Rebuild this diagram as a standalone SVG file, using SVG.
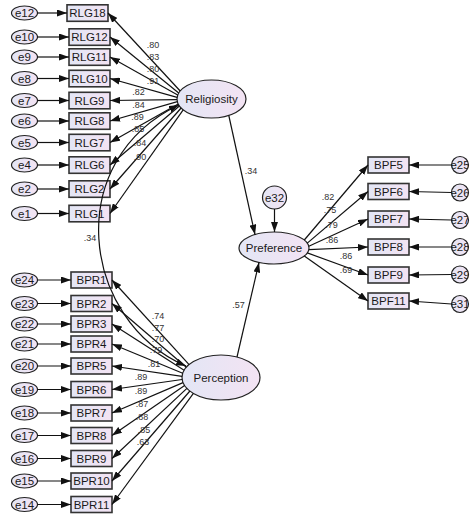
<svg xmlns="http://www.w3.org/2000/svg" width="474" height="515" viewBox="0 0 474 515">
<defs>
<linearGradient id="g" x1="0" y1="0" x2="1" y2="0"><stop offset="0" stop-color="#e3e6f5"/><stop offset="1" stop-color="#f3e3f3"/></linearGradient>
<marker id="ah" viewBox="0 0 10 7" refX="10" refY="3.5" markerWidth="10" markerHeight="7" markerUnits="userSpaceOnUse" orient="auto-start-reverse"><path d="M0,0 L10,3.5 L0,7 z" fill="#111"/></marker>
<clipPath id="cc"><circle r="8.5"/></clipPath>
</defs>
<style>
.box{fill:url(#g);stroke:#333;stroke-width:1.6}
.lat{fill:url(#g);stroke:#222;stroke-width:1.2}
.err{fill:url(#g);stroke:#222;stroke-width:1.2}
.t{font-family:"Liberation Sans",Arial,sans-serif;font-size:11.5px;fill:#1a1a1a;text-anchor:middle;dominant-baseline:central}
.w{font-family:"Liberation Sans",Arial,sans-serif;font-size:9px;fill:#333;text-anchor:middle}
.c line,.c path{stroke:#111;stroke-width:1.2;fill:none;marker-end:url(#ah)}
</style>
<rect width="474" height="515" fill="#fff"/>
<g id="Religiosity"><ellipse class="lat" cx="211.5" cy="99" rx="34.5" ry="19"/><text class="t" x="211.5" y="99">Religiosity</text></g>
<g id="Perception"><ellipse class="lat" cx="221" cy="377.5" rx="39" ry="22.5"/><text class="t" x="221" y="377.5">Perception</text></g>
<g id="Preference"><ellipse class="lat" cx="274" cy="248" rx="35" ry="16"/><text class="t" x="274" y="248">Preference</text></g>
<g id="e32"><ellipse class="err" cx="274.5" cy="197.5" rx="12" ry="11.5"/><text class="t" x="274.5" y="197.5">e32</text></g>
<g id="RLG18"><rect class="box" x="67" y="4.8" width="41" height="16.5"/><text class="t" x="87.5" y="13">RLG18</text></g>
<g id="RLG12"><rect class="box" x="69" y="28.8" width="41" height="16.5"/><text class="t" x="89.5" y="37">RLG12</text></g>
<g id="RLG11"><rect class="box" x="69" y="48.8" width="41" height="16.5"/><text class="t" x="89.5" y="57">RLG11</text></g>
<g id="RLG10"><rect class="box" x="69" y="70.3" width="41" height="16.5"/><text class="t" x="89.5" y="78.5">RLG10</text></g>
<g id="RLG9"><rect class="box" x="69" y="92.3" width="41" height="16.5"/><text class="t" x="89.5" y="100.5">RLG9</text></g>
<g id="RLG8"><rect class="box" x="69" y="112.8" width="41" height="16.5"/><text class="t" x="89.5" y="121">RLG8</text></g>
<g id="RLG7"><rect class="box" x="69" y="134.3" width="41" height="16.5"/><text class="t" x="89.5" y="142.5">RLG7</text></g>
<g id="RLG6"><rect class="box" x="69" y="156.8" width="41" height="16.5"/><text class="t" x="89.5" y="165">RLG6</text></g>
<g id="RLG2"><rect class="box" x="69" y="180.8" width="41" height="16.5"/><text class="t" x="89.5" y="189">RLG2</text></g>
<g id="RLG1"><rect class="box" x="69" y="205.3" width="41" height="16.5"/><text class="t" x="89.5" y="213.5">RLG1</text></g>
<g id="BPR1"><rect class="box" x="71" y="272" width="41" height="16"/><text class="t" x="91.5" y="280">BPR1</text></g>
<g id="BPR2"><rect class="box" x="71" y="295.5" width="41" height="16"/><text class="t" x="91.5" y="303.5">BPR2</text></g>
<g id="BPR3"><rect class="box" x="71" y="316" width="41" height="16"/><text class="t" x="91.5" y="324">BPR3</text></g>
<g id="BPR4"><rect class="box" x="71" y="336" width="41" height="16"/><text class="t" x="91.5" y="344">BPR4</text></g>
<g id="BPR5"><rect class="box" x="71" y="358" width="41" height="16"/><text class="t" x="91.5" y="366">BPR5</text></g>
<g id="BPR6"><rect class="box" x="71" y="381.5" width="41" height="16"/><text class="t" x="91.5" y="389.5">BPR6</text></g>
<g id="BPR7"><rect class="box" x="71" y="405" width="41" height="16"/><text class="t" x="91.5" y="413">BPR7</text></g>
<g id="BPR8"><rect class="box" x="71" y="427.5" width="41" height="16"/><text class="t" x="91.5" y="435.5">BPR8</text></g>
<g id="BPR9"><rect class="box" x="71" y="450.5" width="41" height="16"/><text class="t" x="91.5" y="458.5">BPR9</text></g>
<g id="BPR10"><rect class="box" x="71" y="473" width="41" height="16"/><text class="t" x="91.5" y="481">BPR10</text></g>
<g id="BPR11"><rect class="box" x="71" y="496.5" width="41" height="16"/><text class="t" x="91.5" y="504.5">BPR11</text></g>
<g id="BPF5"><rect class="box" x="368" y="157" width="41" height="16"/><text class="t" x="388.5" y="165">BPF5</text></g>
<g id="BPF6"><rect class="box" x="368" y="183.5" width="41" height="16"/><text class="t" x="388.5" y="191.5">BPF6</text></g>
<g id="BPF7"><rect class="box" x="368" y="211" width="41" height="16"/><text class="t" x="388.5" y="219">BPF7</text></g>
<g id="BPF8"><rect class="box" x="368" y="239" width="41" height="16"/><text class="t" x="388.5" y="247">BPF8</text></g>
<g id="BPF9"><rect class="box" x="368" y="267" width="41" height="16"/><text class="t" x="388.5" y="275">BPF9</text></g>
<g id="BPF11"><rect class="box" x="368" y="293" width="41" height="16"/><text class="t" x="388.5" y="301">BPF11</text></g>
<g id="e12"><ellipse class="err" cx="24.5" cy="13" rx="13" ry="7"/><text class="t" x="24.5" y="13">e12</text></g>
<g id="e10"><ellipse class="err" cx="24.5" cy="37" rx="13" ry="7"/><text class="t" x="24.5" y="37">e10</text></g>
<g id="e9"><ellipse class="err" cx="24.5" cy="57" rx="13" ry="7"/><text class="t" x="24.5" y="57">e9</text></g>
<g id="e8"><ellipse class="err" cx="24.5" cy="78.5" rx="13" ry="7"/><text class="t" x="24.5" y="78.5">e8</text></g>
<g id="e7"><ellipse class="err" cx="24.5" cy="100.5" rx="13" ry="7"/><text class="t" x="24.5" y="100.5">e7</text></g>
<g id="e6"><ellipse class="err" cx="24.5" cy="121" rx="13" ry="7"/><text class="t" x="24.5" y="121">e6</text></g>
<g id="e5"><ellipse class="err" cx="24.5" cy="142.5" rx="13" ry="7"/><text class="t" x="24.5" y="142.5">e5</text></g>
<g id="e4"><ellipse class="err" cx="24.5" cy="165" rx="13" ry="7"/><text class="t" x="24.5" y="165">e4</text></g>
<g id="e2"><ellipse class="err" cx="24.5" cy="189" rx="13" ry="7"/><text class="t" x="24.5" y="189">e2</text></g>
<g id="e1"><ellipse class="err" cx="24.5" cy="213.5" rx="13" ry="7"/><text class="t" x="24.5" y="213.5">e1</text></g>
<g id="e24"><ellipse class="err" cx="24.5" cy="280" rx="13" ry="7"/><text class="t" x="24.5" y="280">e24</text></g>
<g id="e23"><ellipse class="err" cx="24.5" cy="303.5" rx="13" ry="7"/><text class="t" x="24.5" y="303.5">e23</text></g>
<g id="e22"><ellipse class="err" cx="24.5" cy="324" rx="13" ry="7"/><text class="t" x="24.5" y="324">e22</text></g>
<g id="e21"><ellipse class="err" cx="24.5" cy="344" rx="13" ry="7"/><text class="t" x="24.5" y="344">e21</text></g>
<g id="e20"><ellipse class="err" cx="24.5" cy="366" rx="13" ry="7"/><text class="t" x="24.5" y="366">e20</text></g>
<g id="e19"><ellipse class="err" cx="24.5" cy="389.5" rx="13" ry="7"/><text class="t" x="24.5" y="389.5">e19</text></g>
<g id="e18"><ellipse class="err" cx="24.5" cy="413" rx="13" ry="7"/><text class="t" x="24.5" y="413">e18</text></g>
<g id="e17"><ellipse class="err" cx="24.5" cy="435.5" rx="13" ry="7"/><text class="t" x="24.5" y="435.5">e17</text></g>
<g id="e16"><ellipse class="err" cx="24.5" cy="458.5" rx="13" ry="7"/><text class="t" x="24.5" y="458.5">e16</text></g>
<g id="e15"><ellipse class="err" cx="24.5" cy="481" rx="13" ry="7"/><text class="t" x="24.5" y="481">e15</text></g>
<g id="e14"><ellipse class="err" cx="24.5" cy="504.5" rx="13" ry="7"/><text class="t" x="24.5" y="504.5">e14</text></g>
<g id="e25" transform="translate(460,165)"><circle class="err" r="8.5"/><text class="t" clip-path="url(#cc)">e25</text></g>
<g id="e26" transform="translate(460,192.5)"><circle class="err" r="8.5"/><text class="t" clip-path="url(#cc)">e26</text></g>
<g id="e27" transform="translate(460,220)"><circle class="err" r="8.5"/><text class="t" clip-path="url(#cc)">e27</text></g>
<g id="e28" transform="translate(460,247)"><circle class="err" r="8.5"/><text class="t" clip-path="url(#cc)">e28</text></g>
<g id="e29" transform="translate(460,274.5)"><circle class="err" r="8.5"/><text class="t" clip-path="url(#cc)">e29</text></g>
<g id="e31" transform="translate(460,304)"><circle class="err" r="8.5"/><text class="t" clip-path="url(#cc)">e31</text></g>
<g id="connectors" class="c">
<line x1="180.2" y1="91" x2="108" y2="13"/>
<line x1="178.7" y1="93" x2="110" y2="37"/>
<line x1="177.7" y1="95.1" x2="110" y2="57"/>
<line x1="177.1" y1="97.3" x2="110" y2="78.5"/>
<line x1="177" y1="99.6" x2="110" y2="100.5"/>
<line x1="177.4" y1="101.7" x2="110" y2="121"/>
<line x1="178.2" y1="103.9" x2="110" y2="142.5"/>
<line x1="179.4" y1="106" x2="110" y2="165"/>
<line x1="181.1" y1="108" x2="110" y2="189"/>
<line x1="183.2" y1="109.9" x2="110" y2="213.5"/>
<line x1="189.1" y1="364.6" x2="112" y2="280"/>
<line x1="186.3" y1="367.3" x2="112" y2="303.5"/>
<line x1="184.1" y1="370.2" x2="112" y2="324"/>
<line x1="182.7" y1="373.2" x2="112" y2="344"/>
<line x1="182.1" y1="376.3" x2="112" y2="366"/>
<line x1="182.1" y1="379.5" x2="112" y2="389.5"/>
<line x1="183" y1="382.6" x2="112" y2="413"/>
<line x1="184.6" y1="385.6" x2="112" y2="435.5"/>
<line x1="186.9" y1="388.4" x2="112" y2="458.5"/>
<line x1="189.9" y1="391" x2="112" y2="481"/>
<line x1="193.4" y1="393.4" x2="112" y2="504.5"/>
<line x1="304.3" y1="240" x2="368" y2="165"/>
<line x1="307.3" y1="243.1" x2="368" y2="191.5"/>
<line x1="308.8" y1="246.3" x2="368" y2="219"/>
<line x1="308.8" y1="249.7" x2="368" y2="247"/>
<line x1="307.3" y1="252.9" x2="368" y2="275"/>
<line x1="304.3" y1="256" x2="368" y2="301"/>
<line x1="451.5" y1="165" x2="409" y2="165"/>
<line x1="451.5" y1="192.5" x2="409" y2="191.5"/>
<line x1="451.5" y1="220" x2="409" y2="219"/>
<line x1="451.5" y1="247" x2="409" y2="247"/>
<line x1="451.5" y1="274.5" x2="409" y2="275"/>
<line x1="451.5" y1="304" x2="409" y2="301"/>
<line x1="274.5" y1="209" x2="274.5" y2="232"/>
<line x1="228.8" y1="115.5" x2="255" y2="234.6"/>
<line x1="237" y1="357" x2="259" y2="262.5"/>
<path d="M179,105 C62,160 80,320 186,366" marker-start="url(#ah)"/>
<line x1="37.5" y1="13" x2="67" y2="13"/>
<line x1="37.5" y1="37" x2="69" y2="37"/>
<line x1="37.5" y1="57" x2="69" y2="57"/>
<line x1="37.5" y1="78.5" x2="69" y2="78.5"/>
<line x1="37.5" y1="100.5" x2="69" y2="100.5"/>
<line x1="37.5" y1="121" x2="69" y2="121"/>
<line x1="37.5" y1="142.5" x2="69" y2="142.5"/>
<line x1="37.5" y1="165" x2="69" y2="165"/>
<line x1="37.5" y1="189" x2="69" y2="189"/>
<line x1="37.5" y1="213.5" x2="69" y2="213.5"/>
<line x1="37.5" y1="280" x2="71" y2="280"/>
<line x1="37.5" y1="303.5" x2="71" y2="303.5"/>
<line x1="37.5" y1="324" x2="71" y2="324"/>
<line x1="37.5" y1="344" x2="71" y2="344"/>
<line x1="37.5" y1="366" x2="71" y2="366"/>
<line x1="37.5" y1="389.5" x2="71" y2="389.5"/>
<line x1="37.5" y1="413" x2="71" y2="413"/>
<line x1="37.5" y1="435.5" x2="71" y2="435.5"/>
<line x1="37.5" y1="458.5" x2="71" y2="458.5"/>
<line x1="37.5" y1="481" x2="71" y2="481"/>
<line x1="37.5" y1="504.5" x2="71" y2="504.5"/>
</g>
<g id="weights">
<text class="w" x="153" y="48">.80</text>
<text class="w" x="153" y="60">.83</text>
<text class="w" x="153" y="72">.80</text>
<text class="w" x="153" y="84">.91</text>
<text class="w" x="138.5" y="95">.82</text>
<text class="w" x="138.5" y="108">.84</text>
<text class="w" x="137.5" y="120">.89</text>
<text class="w" x="138" y="132">.85</text>
<text class="w" x="140" y="146">.84</text>
<text class="w" x="140" y="160">.90</text>
<text class="w" x="90" y="241">.34</text>
<text class="w" x="158" y="319">.74</text>
<text class="w" x="158" y="331">.77</text>
<text class="w" x="158" y="342">.70</text>
<text class="w" x="156" y="352.5">.79</text>
<text class="w" x="154" y="367">.81</text>
<text class="w" x="141" y="380">.89</text>
<text class="w" x="141" y="394">.89</text>
<text class="w" x="142" y="407">.87</text>
<text class="w" x="142" y="419.5">.88</text>
<text class="w" x="144" y="433">.85</text>
<text class="w" x="143" y="445">.63</text>
<text class="w" x="328" y="199.5">.82</text>
<text class="w" x="330" y="213">.75</text>
<text class="w" x="331.5" y="228">.79</text>
<text class="w" x="332" y="243">.86</text>
<text class="w" x="346" y="259">.86</text>
<text class="w" x="346" y="273">.69</text>
<text class="w" x="251" y="173.5">.34</text>
<text class="w" x="238.5" y="308">.57</text>
</g>
</svg>
